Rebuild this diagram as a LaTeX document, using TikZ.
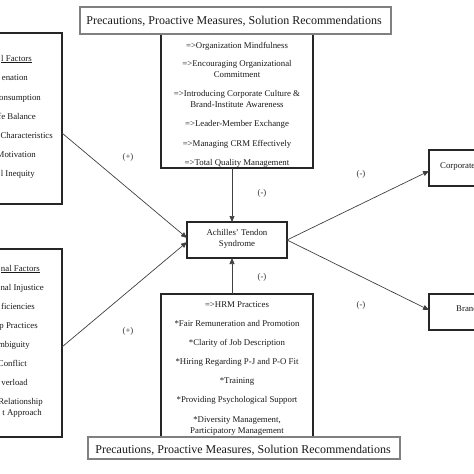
\documentclass[tikz,border=0pt]{standalone}
\usepackage{fontspec}
\setmainfont{Liberation Serif}
\usetikzlibrary{arrows.meta}
\begin{document}
\begin{tikzpicture}[x=1pt,y=-1pt,
  box/.style={draw=black!85, line width=1.2pt, inner sep=0pt, outer sep=0pt},
  ttl/.style={draw=black!50, line width=1.2pt, fill=white, inner sep=0pt, outer sep=0pt, font=\fontsize{12}{14}\selectfont, text=black!90},
  txt/.style={inner sep=0pt, anchor=base, font=\fontsize{8.8}{10}\selectfont, text=black!90},
  rtxt/.style={txt, anchor=base east},
  lbl/.style={inner sep=0pt, font=\fontsize{8.8}{10}\selectfont, text=black!80},
  arr/.style={draw=black!75, line width=0.7pt, -{Triangle[length=6pt,width=5pt]}}]
\useasboundingbox (0,0) rectangle (474,474);
% boxes
\node[box, minimum width=152pt, minimum height=134pt] (T) at (237,101) {};
\node[box, minimum width=152pt, minimum height=143pt] (BB) at (237,365.5) {};
\node[box, minimum width=72pt, minimum height=171pt] (L1) at (26,118.5) {};
\node[box, minimum width=72pt, minimum height=188pt] (L2) at (26,343) {};
\node[box, minimum width=100pt, minimum height=36pt] (A) at (237,240) {};
\node[box, minimum width=61pt, minimum height=36pt] (C) at (459.5,168) {};
\node[box, minimum width=61pt, minimum height=36pt] (B) at (459.5,312) {};
\node[ttl, minimum width=311pt, minimum height=27pt] (TT) at (235.5,20.5) {};
\node[ttl, minimum width=312pt, minimum height=22pt] (BT) at (244,448) {};
\node[inner sep=0pt, anchor=base, font=\fontsize{12}{14}\selectfont, text=black!90] (TTx) at (234,24.5) {Precautions, Proactive Measures, Solution Recommendations};
\node[inner sep=0pt, anchor=base, font=\fontsize{12}{14}\selectfont, text=black!90] (BTx) at (243,453) {Precautions, Proactive Measures, Solution Recommendations};
% top list
\node[txt] (t1) at (237,48) {=>Organization Mindfulness};
\node[txt] (t2) at (237,66) {=>Encouraging Organizational};
\node[txt] (t3) at (237,77) {Commitment};
\node[txt] (t4) at (237,96) {=>Introducing Corporate Culture \&};
\node[txt] (t5) at (237,107) {Brand-Institute Awareness};
\node[txt] (t6) at (237,126) {=>Leader-Member Exchange};
\node[txt] (t7) at (237,146) {=>Managing CRM Effectively};
\node[txt] (t8) at (237,165.5) {=>Total Quality Management};
% bottom list
\node[txt] (b1) at (237,307) {=>HRM Practices};
\node[txt] (b2) at (237,326) {*Fair Remuneration and Promotion};
\node[txt] (b3) at (237,345) {*Clarity of Job Description};
\node[txt] (b4) at (237,364) {*Hiring Regarding P-J and P-O Fit};
\node[txt] (b5) at (237,383) {*Training};
\node[txt] (b6) at (237,402) {*Providing Psychological Support};
\node[txt] (b7) at (237,422) {*Diversity Management,};
\node[txt] (b8) at (237,433) {Participatory Management};
% left upper
\node[rtxt] (l1) at (32,61) {\underline{l Factors}};
\node[rtxt] (l2) at (28,80) {enation};
\node[rtxt] (l3) at (41,100) {onsumption};
\node[rtxt] (l4) at (36,119) {fe Balance};
\node[rtxt] (l5) at (53,138) {Characteristics};
\node[rtxt] (l6) at (36,157) {Motivation};
\node[rtxt] (l7) at (35,176) {l Inequity};
% left lower
\node[rtxt] (m1) at (40,271) {\underline{nal Factors}};
\node[rtxt] (m2) at (44,290) {nal Injustice};
\node[rtxt] (m3) at (35,309) {ficiencies};
\node[rtxt] (m4) at (38,328) {p Practices};
\node[rtxt] (m5) at (30,347) {mbiguity};
\node[rtxt] (m6) at (27,366) {Conflict};
\node[rtxt] (m7) at (28,385) {verload};
\node[rtxt] (m8) at (43,404) {Relationship};
\node[rtxt] (m9) at (42,415) {t Approach};
% centre and right
\node[txt] (a1) at (237,235) {Achilles' Tendon};
\node[txt] (a2) at (237,246) {Syndrome};
\node[txt, anchor=base west] (c1) at (440,168) {Corporate};
\node[txt, anchor=base west] (r1) at (456,311) {Brand};
% labels
\node[lbl] (p1) at (128,157) {(+)};
\node[lbl] (p2) at (128,331) {(+)};
\node[lbl] (n1) at (262,193) {(-)};
\node[lbl] (n2) at (361,174) {(-)};
\node[lbl] (n3) at (262,277) {(-)};
\node[lbl] (n4) at (361,305) {(-)};
% arrows
\draw[arr] ([yshift=-14.5pt]L1.east) -- ([yshift=2pt]A.west);
\draw[arr] ([yshift=-4pt]L2.east) -- ([yshift=-2pt]A.west);
\draw[arr] ([xshift=-5pt]T.south) -- ([xshift=-5pt]A.north);
\draw[arr] ([xshift=-5pt]BB.north) -- ([xshift=-5pt]A.south);
\draw[arr] (A.east) -- ([yshift=-3pt]C.west);
\draw[arr] (A.east) -- ([yshift=2pt]B.west);
\end{tikzpicture}
\end{document}
